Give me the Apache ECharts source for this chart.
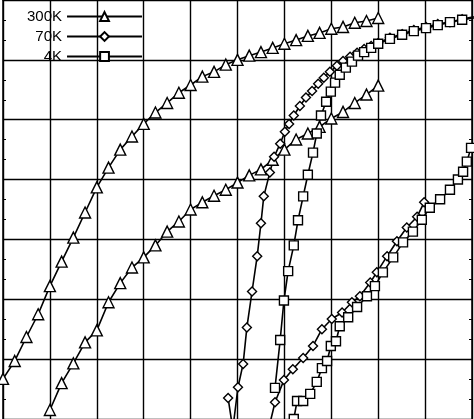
<!DOCTYPE html>
<html><head><meta charset="utf-8">
<script src="https://cdn.jsdelivr.net/npm/echarts@6/dist/echarts.min.js"></script>
<style>html,body{margin:0;padding:0;background:#fff}#c{width:474px;height:419px}</style>
</head><body><div id="c"></div>
<script>
const names = ['300K', '70K', '4K'];
const k300a_x = [0,0.25,0.5,0.75,1,1.25,1.5,1.75,2,2.25,2.5,2.75,3,3.25,3.5,3.75,4,4.25,4.5,4.75,5,5.25,5.5,5.75,6,6.25,6.5,6.75,7,7.25,7.5,7.75,8];
const k300a_y = [1.67,1.97,2.37,2.75,3.22,3.63,4.03,4.45,4.87,5.2,5.5,5.72,5.93,6.12,6.28,6.45,6.58,6.72,6.8,6.92,7.0,7.07,7.13,7.2,7.27,7.33,7.4,7.45,7.52,7.55,7.62,7.65,7.7];
const k300b_x = [1,1.25,1.5,1.75,2,2.25,2.5,2.75,3,3.25,3.5,3.75,4,4.25,4.5,4.75,5,5.25,5.5,5.75,6,6.25,6.5,6.75,7,7.25,7.5,7.75,8];
const k300b_y = [1.15,1.6,1.93,2.28,2.48,2.95,3.27,3.53,3.7,3.9,4.13,4.3,4.5,4.62,4.73,4.83,4.95,5.07,5.17,5.33,5.5,5.67,5.77,5.88,6.02,6.13,6.28,6.42,6.57];
const k70a_x = [4.80,4.90,5.01,5.12,5.20,5.31,5.42,5.50,5.56,5.69,5.78,5.91,6.01,6.10,6.20,6.33,6.46,6.59,6.72,6.84,6.97,7.12,7.25,7.40,7.55,7.70,7.85,8.00,8.25,8.51,8.76,9.02,9.27,9.53,9.79,10.04];
const k70a_y = [1.35,0.83,1.53,1.92,2.53,3.13,3.72,4.27,4.72,5.12,5.38,5.60,5.80,5.93,6.07,6.23,6.37,6.48,6.60,6.70,6.80,6.90,6.98,7.05,7.12,7.18,7.23,7.28,7.37,7.43,7.50,7.55,7.60,7.63,7.68,7.72];
const k70b_x = [5.69,5.80,5.99,6.18,6.40,6.61,6.80,7.01,7.23,7.44,7.61,7.83,7.97,8.19,8.40,8.61,8.83,8.98];
const k70b_y = [0.92,1.28,1.65,1.83,2.02,2.22,2.50,2.67,2.78,2.95,3.05,3.28,3.45,3.72,3.97,4.20,4.38,4.62];
const k4a_x = [5.80,5.91,5.99,6.08,6.20,6.29,6.40,6.50,6.61,6.69,6.78,6.89,6.99,7.08,7.18,7.31,7.44,7.57,7.70,7.85,8.00,8.25,8.51,8.76,9.02,9.27,9.53,9.79,10.04];
const k4a_y = [1.52,2.32,2.98,3.47,3.90,4.32,4.72,5.08,5.45,5.77,6.07,6.30,6.47,6.62,6.75,6.87,6.97,7.07,7.13,7.20,7.27,7.35,7.42,7.48,7.53,7.58,7.63,7.67,7.70];
const k4b_x = [6.20,6.27,6.40,6.55,6.69,6.80,6.91,6.99,7.10,7.18,7.36,7.55,7.76,7.93,8.10,8.32,8.53,8.74,8.93,9.10,9.32,9.53,9.70,9.81,9.89,9.98];
const k4b_y = [1.0,1.30,1.30,1.42,1.62,1.85,1.97,2.22,2.30,2.55,2.70,2.87,3.05,3.22,3.45,3.70,3.95,4.13,4.33,4.53,4.67,4.83,5.00,5.13,5.30,5.53];

const zip = (a, b) => a.map((v, i) => [v, b[i]]);
function ser(name, xs, ys, sym) {
  return {name, type: 'line', data: zip(xs, ys), symbol: sym, symbolSize: sym === 'triangle' ? 11 : 9,
    lineStyle: {color: '#000', width: 1.6}, itemStyle: {color: '#fff', borderColor: '#000', borderWidth: 1.4},
    showSymbol: true, animation: false, clip: true};
}
const chart = echarts.init(document.getElementById('c'));
chart.setOption({
  animation: false,
  grid: {left: 3, top: 0, width: 469, height: 420},
  legend: {orient: 'vertical', left: 22, top: 4, align: 'right', itemWidth: 75, itemHeight: 11, itemGap: 5,
    data: names, textStyle: {fontFamily: 'Liberation Sans, Arial', fontSize: 15, color: '#000', width: 100, align: 'left'}},
  xAxis: [{type: 'value', min: 0, max: 10, interval: 1, position: 'top',
    axisLine: {lineStyle: {color: '#000', width: 1.5}}, axisTick: {inside: true, length: 5, lineStyle: {color: '#000'}},
    axisLabel: {show: false}, splitLine: {lineStyle: {color: '#000', width: 1.4}}}],
  yAxis: [{type: 'value', min: 1, max: 8, interval: 1, position: 'left',
    axisLine: {show: true, lineStyle: {color: '#000', width: 1.5}}, axisTick: {inside: true, length: 5, lineStyle: {color: '#000'}},
    minorTick: {show: true, splitNumber: 3, length: 3, lineStyle: {color: '#000'}},
    axisLabel: {show: false}, splitLine: {lineStyle: {color: '#000', width: 1.4}}},
    {type: 'value', min: 1, max: 8, interval: 1, position: 'right',
    axisLine: {show: true, lineStyle: {color: '#000', width: 1.5}}, axisTick: {inside: true, length: 5, lineStyle: {color: '#000'}},
    minorTick: {show: true, splitNumber: 3, length: 3, lineStyle: {color: '#000'}},
    axisLabel: {show: false}, splitLine: {show: false}}],
  series: [
    ser('300K', k300a_x, k300a_y, 'triangle'),
    ser('300K', k300b_x, k300b_y, 'triangle'),
    ser('70K', k70a_x, k70a_y, 'diamond'),
    ser('70K', k70b_x, k70b_y, 'diamond'),
    ser('4K', k4a_x, k4a_y, 'rect'),
    ser('4K', k4b_x, k4b_y, 'rect')
  ]
});
</script></body></html>
